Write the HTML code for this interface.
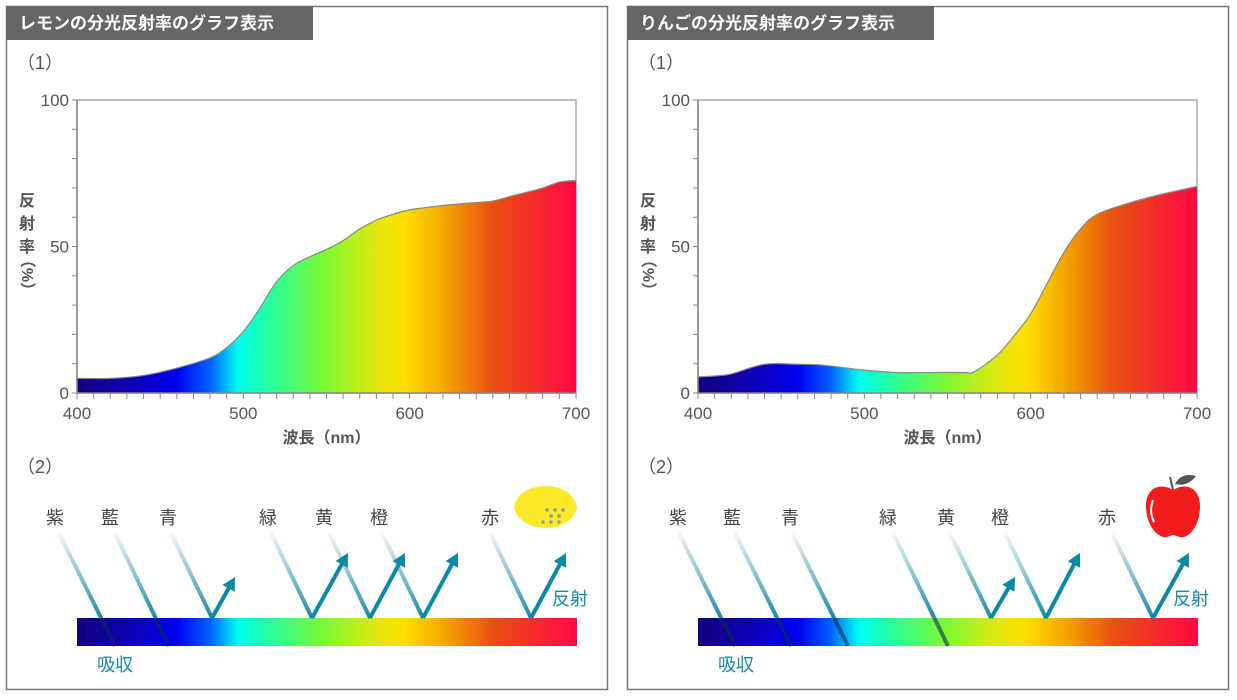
<!DOCTYPE html>
<html><head><meta charset="utf-8">
<style>
html,body{margin:0;padding:0;background:#fff;}
svg{display:block;font-family:"Liberation Sans","Noto Sans CJK JP",sans-serif;}
</style></head>
<body>
<svg id="root" width="1237" height="700" viewBox="0 0 1237 700" xmlns="http://www.w3.org/2000/svg">
<defs>
  <linearGradient id="inc" x1="0" y1="0" x2="0" y2="1">
    <stop offset="0" stop-color="#1a8aa8" stop-opacity="0.05"/>
    <stop offset="1" stop-color="#1a8aa8" stop-opacity="1"/>
  </linearGradient>
</defs>
<g id="panels"></g>
</svg>
<script>
// data
const wavelengths = [400,420,440,460,480,490,500,510,520,530,540,550,560,570,580,590,600,620,640,650,660,680,690,700];
const lemonValues = [5,5,6,8.5,12,15.5,21,29,38,43.5,46.5,49,52,56,59,61,62.5,64,65,65.5,67,70,72,72.5];
const appleWavelengths = [400,410,420,440,460,470,480,500,520,540,560,566,580,590,600,610,620,630,640,660,680,700];
const appleValues = [5.5,5.8,6.5,9.8,9.8,9.7,9.2,7.8,7,7,7,7.2,13,19.5,27,37.5,48,56,61,65,68,70.5];
const xTickLabels = [400,500,600,700];
const yTickLabels = [0,50,100];
const colorNames = ["紫","藍","青","緑","黄","橙","赤"];

const NS="http://www.w3.org/2000/svg";
const root=document.getElementById('panels');
function mk(tag,attrs,parent,text){const e=document.createElementNS(NS,tag);for(const k in attrs)e.setAttribute(k,attrs[k]);if(text!==undefined)e.textContent=text;(parent||root).appendChild(e);return e;}
const specStops=[[400,"#12007a"],[440,"#0a00c4"],[460,"#0000f0"],[480,"#0060ff"],[497,"#00fff0"],[520,"#30ff90"],[550,"#80f830"],[580,"#e0e810"],[597,"#ffe000"],[620,"#f4a800"],[650,"#e85010"],[700,"#ff0844"]];
const defs=document.querySelector('defs');

function panel(ox, title, xs, ys, id, lines, fruit, labelXs){
  const g=mk('g',{});
  
  
  mk('rect',{x:ox+6.5,y:6.5,width:601,height:683,fill:'#fff',stroke:'#777','stroke-width':1.5},g);
  mk('rect',{x:ox+6,y:6,width:307,height:34,fill:'#666'},g);
  const tt=mk('text',{x:ox+19,y:29,fill:'#fff','font-size':17,'font-weight':'bold'},g,title);
  
  
  mk('text',{x:ox+17,y:69,fill:'#555','font-size':18},g,'（1）');
  const L=ox+77,R=ox+576,T=100,B=393;
  const sx=v=>L+(v-400)/300*(R-L), sy=v=>B-v/100*(B-T);
  const lg=mk('linearGradient',{id:'sp'+id,gradientUnits:'userSpaceOnUse',x1:L,y1:0,x2:R,y2:0},defs);
  specStops.forEach(s=>mk('stop',{offset:(s[0]-400)/300,'stop-color':s[1]},lg));
  mk('rect',{x:L,y:T,width:R-L,height:B-T,fill:'none',stroke:'#aaa','stroke-width':1.5},g);
  const pts=xs.map((x,i)=>[sx(x),sy(ys[i])]);
  let d='M'+pts[0][0]+','+pts[0][1];
  for(let i=0;i<pts.length-1;i++){const p0=pts[Math.max(i-1,0)],p1=pts[i],p2=pts[i+1],p3=pts[Math.min(i+2,pts.length-1)];
    d+=' C'+(p1[0]+(p2[0]-p0[0])/6)+','+(p1[1]+(p2[1]-p0[1])/6)+' '+(p2[0]-(p3[0]-p1[0])/6)+','+(p2[1]-(p3[1]-p1[1])/6)+' '+p2[0]+','+p2[1];}
  const area=mk('path',{d:d+' L'+R+','+B+' L'+L+','+B+' Z',fill:'url(#sp'+id+')'},g);
  
  
  mk('path',{d:d,fill:'none',stroke:'#888','stroke-width':1.2},g);
  mk('line',{x1:L,y1:T,x2:L,y2:B,stroke:'#888','stroke-width':1.5},g);
  mk('line',{x1:L,y1:B,x2:R,y2:B,stroke:'#888','stroke-width':1.5},g);
  for(let v=0;v<=100;v+=10)mk('line',{x1:L-5,y1:sy(v),x2:L,y2:sy(v),stroke:'#888'},g);
  for(let w=400;w<=700;w+=10)mk('line',{x1:sx(w),y1:B,x2:sx(w),y2:B+6,stroke:'#888'},g);
  yTickLabels.forEach(v=>mk('text',{x:L-8,y:sy(v)+6,'text-anchor':'end','font-size':17,fill:'#555'},g,v));
  xTickLabels.forEach(v=>mk('text',{x:sx(v),y:419,'text-anchor':'middle','font-size':17,fill:'#555'},g,v));
  mk('text',{x:(L+R)/2,y:443,'text-anchor':'middle','font-size':16,'font-weight':'bold',fill:'#555'},g,'波長（nm）');
  ['反','射','率'].forEach((c,i)=>mk('text',{x:ox+27,y:206+i*23,'text-anchor':'middle','font-size':16,'font-weight':'bold',fill:'#555'},g,c));
  mk('text',{x:ox+27,y:280,'text-anchor':'middle','font-size':16,'font-weight':'bold',fill:'#555',transform:'rotate(90 '+(ox+27)+' 275)'},g,'（%）');
  mk('text',{x:ox+17,y:473,fill:'#555','font-size':18},g,'（2）');
  const bar=mk('rect',{x:L,y:618,width:R-L+1,height:28,fill:'url(#sp'+id+')'},g);
  
  
  colorNames.forEach((c,i)=>mk('text',{x:labelXs[i],y:524,'text-anchor':'middle','font-size':18,fill:'#444'},g,c));
  lines.forEach(l=>{
    const [x1,x2,ref]=l;
    if(ref){
      const xb=x1+41;
      mk('path',{d:`M${x1},533 L${xb},618`,stroke:'url(#inc)','stroke-width':4,fill:'none'},g);
      const ex=ref[0],ey=ref[1];
      const ang=Math.atan2(ey-618,ex-xb);
      const ux=Math.cos(ang),uy=Math.sin(ang);
      mk('line',{x1:xb,y1:618,x2:ex-ux*8,y2:ey-uy*8,stroke:'#0a88a8','stroke-width':4},g);
      const px=-uy,py=ux;
      mk('polygon',{points:`${ex},${ey} ${ex-ux*13+px*7},${ey-uy*13+py*7} ${ex-ux*13-px*7},${ey-uy*13-py*7}`,fill:'#0a88a8'},g);
    } else {
      mk('path',{d:`M${x1},533 L${x1+(x2-x1)*85/113},618`,stroke:'url(#inc)','stroke-width':4,fill:'none'},g);
      mk('line',{x1:x1+(x2-x1)*85/113,y1:618,x2:x2,y2:646,stroke:'#0a2a5a','stroke-opacity':0.6,'stroke-width':4},g);
    }
  });
  mk('text',{x:R-24,y:605,'font-size':18,fill:'#1a8aa8'},g,'反射');
  mk('text',{x:ox+97,y:671,'font-size':18,fill:'#1a8aa8'},g,'吸収');
  fruit(g);
}
panel(0,'レモンの分光反射率のグラフ表示',wavelengths,lemonValues,'lemon',
 [[59,115],[115,169],[171,0,[235,577]],[271,0,[348,553]],[329,0,[405,553]],[382,0,[458,553]],[490,0,[566,553]]],
 g=>{const e=mk('path',{d:'M514,507 C516,494 530,486 546,486 C562,486 574,494 577,507 C574,520 562,528 546,528 C530,528 516,520 514,507 Z',fill:'#fbe929'},g);
  
  [[547,509],[555,509],[563,509],[551,515],[559,515],[543,521],[551,521],[559,521]].forEach(p=>mk('circle',{cx:p[0],cy:p[1]+1,r:1.8,fill:'#999'},g));},
 [55,110,168,268,324,379,490]);
panel(621,'りんごの分光反射率のグラフ表示',appleWavelengths,appleValues,'apple',
 [[679,735],[735,791],[792,848],[893,948],[950,0,[1015,577]],[1005,0,[1080,553]],[1112,0,[1189,553]]],
 g=>{const a=mk('path',{d:'M1173,490 C1160,482 1146,488 1146,506 C1146,522 1154,534 1163,537 C1168,538 1170,535 1173,535 C1176,535 1179,538 1184,537 C1193,534 1200,522 1200,506 C1200,488 1186,482 1173,490 Z',fill:'#f21c1c'},g);
  
  mk('line',{x1:1173,y1:490,x2:1170,y2:477,stroke:'#555','stroke-width':2},g);
  mk('path',{d:'M1175,484 C1180,474 1190,474 1196,476 C1190,484 1182,486 1175,484 Z',fill:'#555'},g);
  mk('path',{d:'M1153,500 C1150,508 1151,516 1154,522',stroke:'#fff','stroke-width':2,fill:'none'},g);},
 [678,732,790,888,946,1000,1107]);
</script>
</body></html>
